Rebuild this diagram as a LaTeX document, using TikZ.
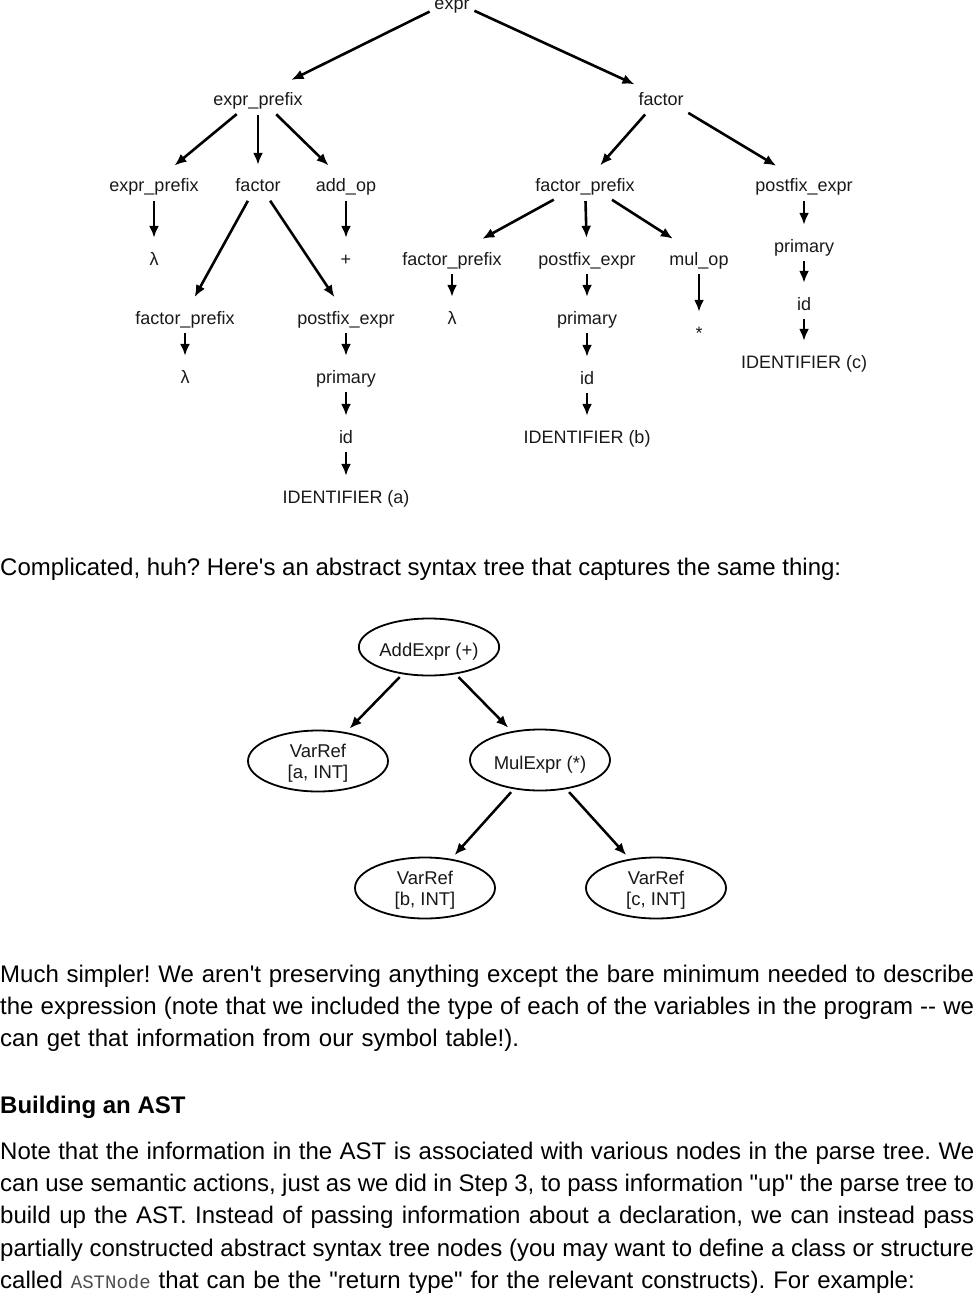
\documentclass[tikz,border=0pt]{standalone}
\usepackage{fontspec}
\usetikzlibrary{arrows.meta,shapes.geometric}
\newfontfamily\helv{Liberation Sans}
\newfontfamily\code{Liberation Mono}
\def\fullline#1{\makebox[974pt][s]{\spaceskip=.278em plus .4em minus .1em\relax #1}}

\begin{document}
\frenchspacing
\begin{tikzpicture}[x=1pt,y=-1pt,
		sym/.style={font=\helv\fontsize{18}{20}\selectfont, text=black!90, inner sep=2pt,
			text height=23pt, text depth=4pt, anchor=base},
		treearrow/.style={-{Latex[length=12pt,width=10pt]}, line width=2.6pt,
			shorten <=3pt, shorten >=2pt},
		astnode/.style={ellipse, draw, line width=1.8pt, fill=white, inner sep=0pt,
			minimum width=140pt, minimum height=61pt, align=center,
			font=\helv\fontsize{18.5}{20.5}\selectfont, text=black!90},
		oneline/.style={text height=19pt, text depth=0pt},
		twoline/.style={text height=34pt, text depth=0pt},
		astarrow/.style={-{Latex[length=12pt,width=10pt]}, line width=2.5pt,
			shorten <=4pt, shorten >=5pt},
		para/.style={font=\helv\fontsize{24}{32.4}\selectfont\frenchspacing, inner sep=0pt, anchor=base west}]
		%%%%% START %%%%%
		
		\useasboundingbox (0, 0) rectangle (974, 1300);
		
		% parse tree
		\node[sym] (expr) at (452, 10) {expr};
		
		\node[sym] (exprpre) at (258, 106) {expr\_prefix};
		\node[sym] (fac) at (661, 106) {factor};
		
		\node[sym] (exprpreL) at (154, 192) {expr\_prefix};
		\node[sym] (facL) at (258, 192) {factor};
		\node[sym] (addop) at (346, 192) {add\_op};
		\node[sym] (facpre) at (585, 192) {factor\_prefix};
		\node[sym] (postR) at (804, 192) {postfix\_expr};
		
		\node[sym] (lamA) at (154, 265) {λ};
		\node[sym] (plus) at (346, 265) {+};
		\node[sym] (facpreM) at (452, 265) {factor\_prefix};
		\node[sym] (postM) at (587, 265) {postfix\_expr};
		\node[sym] (mulop) at (699, 265) {mul\_op};
		\node[sym] (primR) at (804, 252) {primary};
		
		\node[sym] (facpreL) at (185, 324) {factor\_prefix};
		\node[sym] (postL) at (346, 324) {postfix\_expr};
		\node[sym] (lamM) at (452, 324) {λ};
		\node[sym] (primM) at (587, 324) {primary};
		\node[sym] (star) at (699, 339) {*};
		\node[sym] (idR) at (804, 310) {id};
		
		\node[sym] (lamL) at (185, 383) {λ};
		\node[sym] (primL) at (346, 383) {primary};
		\node[sym] (idM) at (587, 384) {id};
		\node[sym] (identC) at (804, 368) {IDENTIFIER (c)};
		
		\node[sym] (idL) at (346, 443) {id};
		\node[sym] (identB) at (587, 443) {IDENTIFIER (b)};
		
		\node[sym] (identA) at (346, 503) {IDENTIFIER (a)};
		
		\draw[treearrow] (expr) -- (exprpre);
		\draw[treearrow] (expr) -- (fac);
		\draw[treearrow] (exprpre) -- (exprpreL);
		\draw[treearrow] (exprpre) -- (facL);
		\draw[treearrow] (exprpre) -- (addop);
		\draw[treearrow] (fac) -- (facpre);
		\draw[treearrow] (fac) -- (postR);
		\draw[treearrow] (exprpreL) -- (lamA);
		\draw[treearrow] (addop) -- (plus);
		\draw[treearrow] (facL) -- (facpreL);
		\draw[treearrow] (facL) -- (postL);
		\draw[treearrow] (facpre) -- (facpreM);
		\draw[treearrow] (facpre) -- (postM);
		\draw[treearrow] (facpre) -- (mulop);
		\draw[treearrow] (postR) -- (primR);
		\draw[treearrow] (primR) -- (idR);
		\draw[treearrow] (idR) -- (identC);
		\draw[treearrow] (facpreM) -- (lamM);
		\draw[treearrow] (postM) -- (primM);
		\draw[treearrow] (primM) -- (idM);
		\draw[treearrow] (idM) -- (identB);
		\draw[treearrow] (mulop) -- (star);
		\draw[treearrow] (facpreL) -- (lamL);
		\draw[treearrow] (postL) -- (primL);
		\draw[treearrow] (primL) -- (idL);
		\draw[treearrow] (idL) -- (identA);
		
		\node[para] (intro) at (0, 575) {Complicated, huh? Here's an abstract syntax tree that captures the same thing:};
		
		% abstract syntax tree
		\node[astnode, oneline, minimum height=57pt] (add) at (429, 647) {AddExpr (+)};
		\node[astnode, twoline] (refa) at (318, 761) {VarRef\\{}[a, INT]};
		\node[astnode, oneline] (mul) at (540, 760) {MulExpr (*)};
		\node[astnode, twoline] (refb) at (425, 888) {VarRef\\{}[b, INT]};
		\node[astnode, twoline] (refc) at (656, 888) {VarRef\\{}[c, INT]};
		
		\draw[astarrow] (add) -- (refa);
		\draw[astarrow] (add) -- (mul);
		\draw[astarrow] (mul) -- (refb);
		\draw[astarrow] (mul) -- (refc);
		
		\node[para, text width=974pt, align=left] (simpler) at (0, 982) {%
			\fullline{Much simpler! We aren't preserving anything except the bare minimum needed to describe}\\
			\fullline{the expression (note that we included the type of each of the variables in the program -- we}\\
			can get that information from our symbol table!).};
		
		\node[para] (heading) at (0, 1113) {\bfseries Building an AST};
		
		\node[para, text width=974pt, align=left] (building) at (0, 1159) {%
			\fullline{Note that the information in the AST is associated with various nodes in the parse tree. We}\\
			\fullline{can use semantic actions, just as we did in Step 3, to pass information "up" the parse tree to}\\
			\fullline{build up the AST. Instead of passing information about a declaration, we can instead pass}\\
			\fullline{partially constructed abstract syntax tree nodes (you may want to define a class or structure}\\
			called {\code\fontsize{19}{32.4}\selectfont\color{black!70}ASTNode} that can be the "return type" for the relevant constructs). For example:};
		
		%%%%% END %%%%%
\end{tikzpicture}
\end{document}
